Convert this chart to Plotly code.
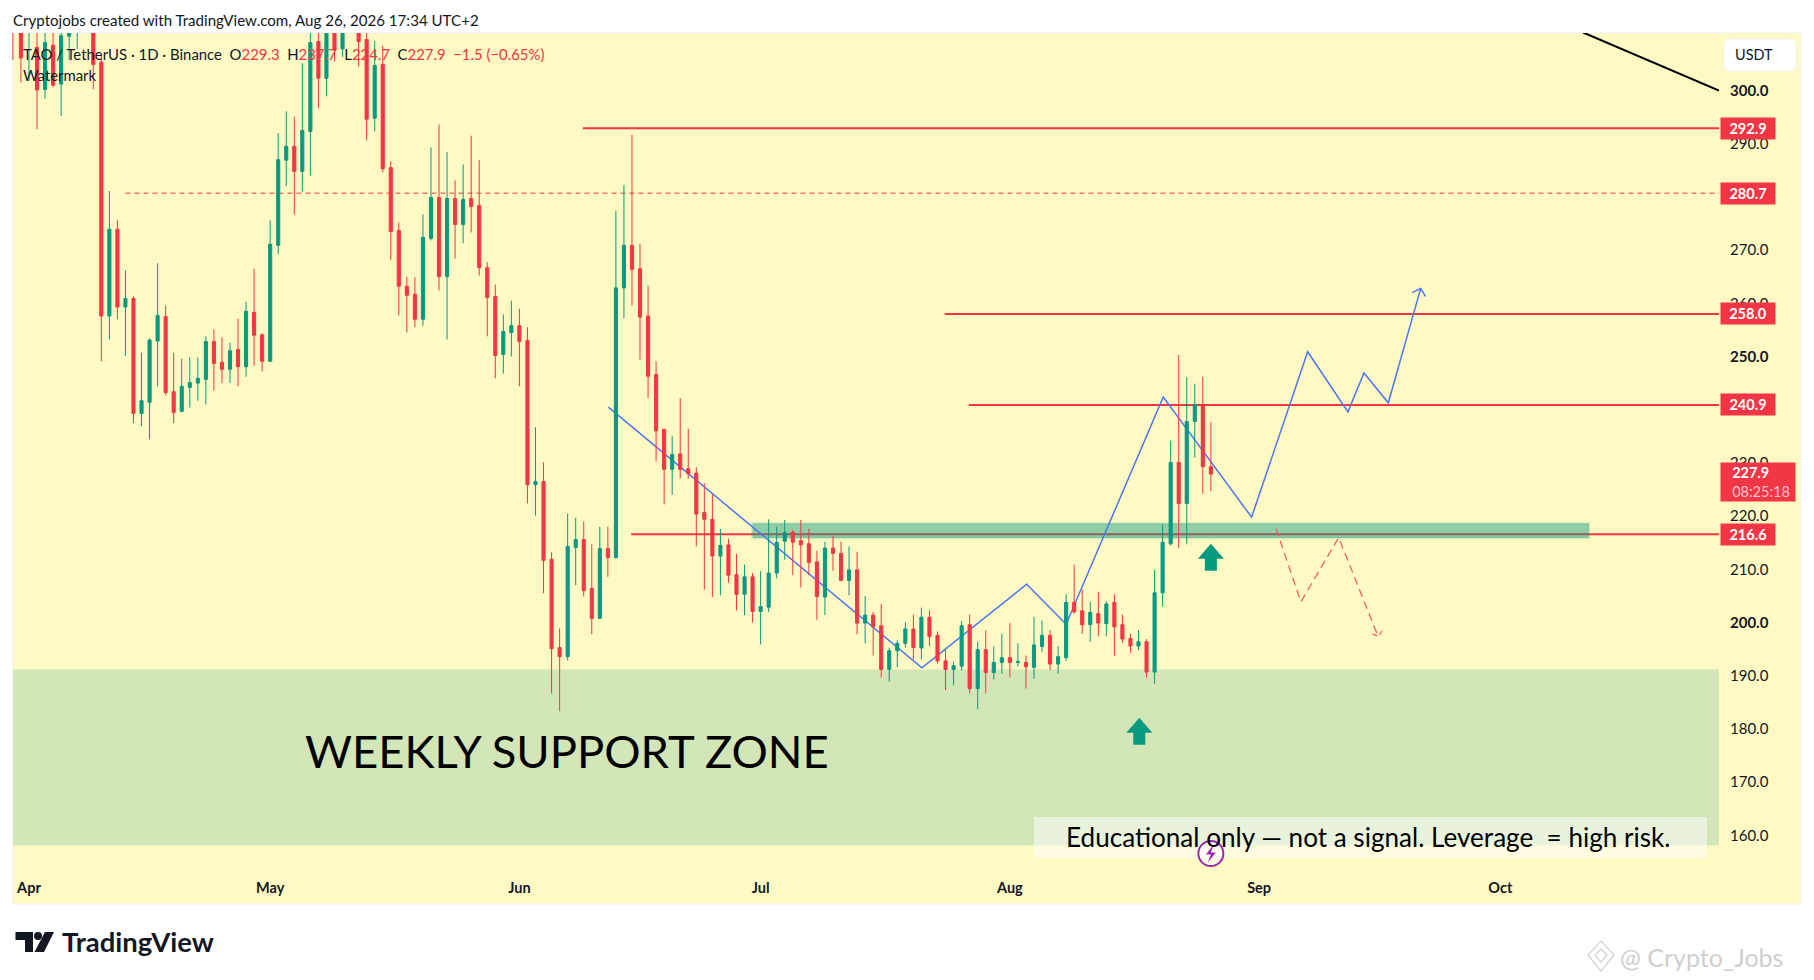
import pandas as pd
import plotly.graph_objects as go

W, H = 1814, 980
L, R, T, B = 12, 1719, 33, 870

opens = [318, 316, 312, 308.1, 300.2, 308.5, 301.2, 310.2, 312, 314, 316, 305.3,
         257.6, 273.9, 259.3, 260.9, 239.3, 241.4, 252.9, 257.5, 243.4, 239.7, 244.2, 245.0,
         245.7, 252.8, 248.9, 247.6, 251.3, 248.1, 258.3, 254.1, 249.1, 270.9, 286.9, 289.5,
         284.8, 292.3, 309.2, 302.3, 313, 307.8, 312, 313, 309.6, 294.8, 304.9, 285.5,
         273.7, 263.2, 261.7, 257.0, 272.2, 279.9, 265.0, 279.7, 274.8, 279.7, 278.4, 266.7,
         261.3, 250.4, 254.5, 255.8, 253.0, 225.9, 226.5, 211.9, 195.3, 193.6, 214.1, 215.6,
         206.4, 200.8, 213.9, 212.2, 262.9, 270.9, 266.5, 257.6, 246.6, 236.3, 228.8, 231.7,
         228.9, 228.1, 220.7, 219.4, 212.5, 214.6, 209.0, 205.3, 208.6, 202.1, 202.9, 209.3,
         215.3, 217.0, 215.4, 214.8, 211.4, 204.8, 214.0, 213.0, 207.9, 209.9, 199.9, 201.4,
         199.4, 191.2, 194.7, 196.1, 198.8, 195.2, 201.0, 197.6, 192.8, 191.2, 191.8, 199.6,
         187.6, 194.9, 190.6, 192.5, 193.4, 192.5, 192.5, 191.6, 195.5, 197.6, 192.2, 193.4,
         203.8, 202.2, 199.6, 201.7, 199.8, 203.8, 199.6, 197.0, 195.6, 196.4, 190.7, 205.6,
         214.8, 230.1, 222.4, 237.8, 241.0, 229.3]
highs = [320, 318, 317, 313, 313, 313, 313, 313, 316, 318, 318, 306.5,
         281.1, 275.6, 266.2, 261.3, 250.7, 253.4, 267.5, 259.6, 250.7, 249.6, 249.9, 249.8,
         253.8, 255.1, 253.6, 252.6, 257.1, 260.3, 266.5, 254.3, 275.6, 292.0, 296.1, 295.1,
         305.1, 312, 312, 315, 315, 316, 318, 315, 312, 309.3, 308.4, 286.7,
         275.2, 265.0, 264.9, 276.7, 289.3, 293.6, 288.4, 283.1, 286.1, 291.5, 286.9, 267.7,
         263.5, 257.9, 260.5, 259.0, 255.5, 236.7, 230.1, 213.2, 198.9, 220.5, 219.7, 219.0,
         214.7, 218.0, 218.0, 277.4, 282.2, 291.7, 271.2, 263.3, 249.1, 236.4, 235.1, 242.2,
         236.4, 229.2, 226.2, 224.2, 217.6, 215.8, 212.9, 210.9, 209.3, 209.7, 219.4, 218.0,
         219.3, 217.4, 219.3, 217.6, 213.5, 215.2, 216.3, 215.2, 214.3, 213.3, 205.0, 202.0,
         203.5, 195.3, 196.7, 200.1, 201.5, 202.8, 202.3, 198.3, 195.1, 192.7, 200.3, 201.5,
         196.4, 198.5, 195.5, 197.9, 199.9, 196.1, 193.8, 201.1, 200.4, 198.6, 195.6, 205.3,
         210.9, 206.2, 203.9, 205.8, 204.0, 205.3, 201.5, 197.9, 198.6, 196.9, 209.9, 218.4,
         234.2, 250.3, 246.1, 244.9, 246.2, 237.7]
lows = [305.7, 301.5, 301.8, 292.7, 298.4, 300.6, 295.2, 305.7, 307.8, 312, 300.2, 249.1,
        253.2, 257.0, 250.1, 237.5, 236.9, 234.4, 244.4, 242.7, 237.5, 239.5, 240.4, 241.7,
        241.0, 243.6, 245.0, 245.0, 244.4, 246.2, 248.3, 247.2, 249.0, 269.2, 282.0, 276.7,
        281.0, 284.0, 296.7, 298.9, 305.5, 306.3, 311.5, 304.5, 290.6, 292.3, 284.6, 268.1,
        257.7, 254.5, 255.5, 255.8, 271.8, 262.4, 253.2, 268.4, 271.3, 273.3, 265.2, 253.8,
        245.9, 246.8, 250.0, 244.4, 222.4, 220.1, 205.5, 186.7, 183.3, 192.9, 207.0, 204.9,
        197.8, 200.7, 208.6, 212.1, 257.2, 259.6, 249.4, 242.2, 230.3, 222.2, 224.0, 227.1,
        227.1, 214.3, 206.2, 204.8, 205.1, 207.5, 202.3, 201.4, 200.0, 195.9, 202.0, 208.3,
        211.8, 208.9, 206.6, 208.9, 200.5, 201.4, 209.7, 207.9, 205.1, 197.8, 196.1, 193.8,
        189.7, 188.9, 191.6, 195.3, 193.1, 193.1, 195.6, 192.3, 187.3, 188.2, 191.0, 186.7,
        183.7, 186.7, 189.3, 190.4, 189.7, 191.7, 187.6, 189.4, 194.5, 191.0, 190.4, 192.8,
        201.7, 197.9, 196.4, 197.4, 197.4, 193.8, 196.2, 194.3, 194.8, 189.7, 188.5, 203.0,
        214.5, 214.0, 214.7, 231.0, 224.2, 224.7]
closes = [314, 306.1, 316, 300.1, 309.0, 301.0, 310.3, 311.5, 314, 316, 304.9, 257.6,
          273.9, 259.3, 260.9, 239.3, 241.7, 253.1, 257.7, 243.2, 239.5, 244.4, 245.1, 245.9,
          252.8, 248.7, 247.6, 251.1, 248.1, 258.5, 254.0, 249.1, 271.1, 287.0, 289.5, 284.8,
          292.5, 309.0, 302.3, 313, 307.6, 312, 315, 309.2, 294.6, 304.7, 285.3, 273.5,
          263.2, 261.5, 257.0, 272.4, 279.9, 265.0, 279.7, 274.8, 279.5, 278.2, 266.7, 261.1,
          250.2, 254.7, 255.8, 252.8, 225.9, 226.5, 211.7, 195.1, 193.6, 214.3, 215.6, 206.0,
          200.8, 213.9, 212.2, 262.9, 270.9, 266.4, 257.4, 246.3, 236.0, 228.8, 231.6, 228.8,
          228.0, 220.4, 219.4, 212.5, 214.5, 208.9, 205.3, 208.6, 202.1, 203.0, 209.3, 215.1,
          216.9, 215.1, 214.6, 211.3, 204.9, 214.0, 213.0, 207.9, 209.9, 199.9, 201.4, 199.2,
          191.2, 194.7, 196.1, 198.8, 195.3, 201.0, 197.4, 192.8, 191.2, 191.9, 199.4, 187.6,
          194.9, 190.6, 192.5, 193.4, 192.5, 192.7, 191.7, 195.8, 197.6, 192.2, 193.6, 203.8,
          202.0, 199.6, 201.9, 199.9, 203.5, 199.2, 196.9, 195.6, 196.4, 190.7, 205.6, 215.1,
          230.1, 222.4, 237.8, 241.0, 229.3, 227.9]

dates = pd.date_range("2026-03-30", periods=len(opens))

month_ticks = ["2026-04-01", "2026-05-01", "2026-06-01", "2026-07-01", "2026-08-01", "2026-09-01", "2026-10-01"]
month_labels = ["Apr", "May", "Jun", "Jul", "Aug", "Sep", "Oct"]
price_ticks = [160, 170, 180, 190, 200, 210, 220, 230, 250, 260, 270, 280, 290, 300]
price_labels = ["160.0", "170.0", "180.0", "190.0", "<b>200.0</b>", "210.0", "220.0", "230.0",
                "<b>250.0</b>", "260.0", "270.0", "280.0", "290.0", "<b>300.0</b>"]

# horizontal levels, x start in days after Apr 1
level_prices = [292.9, 258.0, 240.9, 216.6]
level_starts = [68.9, 113.9, 116.9, 74.9]
dashed_level = 280.7
dashed_start = 12.0

# drawings, days after Apr 1 and prices
blue_days = [72.06, 111.06, 124.09, 129.0, 141.08, 152.07, 159.04, 164.05, 166.04, 169.07, 173.1]
blue_prices = [240.5, 191.5, 207.2, 199.7, 242.4, 219.8, 250.9, 239.6, 246.9, 241.3, 262.8]
blue_head_days = [172.05, 173.1, 173.7]
blue_head_prices = [262.0, 262.8, 261.3]
red_days = [155.1, 158.2, 162.9, 167.8]
red_prices = [217.7, 203.9, 216.0, 197.4]
red_head_days = [167.1, 167.8, 168.5]
red_head_prices = [197.9, 197.4, 198.8]
black_days = [193.3, 210.2]
black_prices = [310.9, 300.0]

RED = "#F23645"
GREEN = "#089981"
BLUE = "#4A78F5"
YELLOW = "#FFF9C4"
FONT = "Lato"
X_RANGE = [-2.11, 210.2]
Y_RANGE = [153.5, 310.8]


def day(d):
    return pd.Timestamp("2026-04-01") + pd.Timedelta(days=d)


def dstr(d):
    return day(d).strftime("%Y-%m-%d_%H:%M:%S")


def px(x):
    return (x - L) / (R - L)


def py(y):
    return (B - y) / (B - T)


def poly(days, prices, color, width, dash="solid", layer="below"):
    path = " ".join(("M" if i == 0 else "L") + " %s,%s" % (dstr(d), p) for i, (d, p) in enumerate(zip(days, prices)))
    return dict(type="path", path=path, xref="x", yref="y", layer=layer,
                line=dict(color=color, width=width, dash=dash))


def paper_path(points, fill, line_color=None, width=0, layer="above"):
    path = "M " + " L ".join("%.5f,%.5f" % (px(x), py(y)) for x, y in points) + " Z"
    return dict(type="path", path=path, xref="paper", yref="paper", layer=layer, fillcolor=fill,
                line=dict(color=line_color or fill, width=width))


shapes = [
    dict(type="rect", xref="paper", yref="paper", x0=px(13), x1=px(1801), y0=py(904), y1=py(33),
         fillcolor=YELLOW, line=dict(color="#F1F1EA", width=1), layer="below"),
    dict(type="rect", xref="paper", yref="y", x0=px(13), x1=1, y0=158.1, y1=191.2,
         fillcolor="#D2E6B7", line_width=0, layer="below"),
    poly([dashed_start, X_RANGE[1]], [dashed_level, dashed_level], RED, 1, "5px,4px"),
]
for price, start in zip(level_prices, level_starts):
    shapes.append(poly([start, X_RANGE[1]], [price, price], RED, 2))
shapes += [
    dict(type="rect", xref="x", yref="y", x0=day(90), x1=day(194), y0=215.9, y1=218.6,
         fillcolor="rgba(8,153,129,0.45)", line=dict(color="rgba(8,153,129,0.15)", width=3), layer="below"),
    poly(blue_days, blue_prices, BLUE, 1.5),
    poly(blue_head_days, blue_head_prices, BLUE, 1.5),
    poly(red_days, red_prices, "#F7525F", 1.2, "8px,5px"),
    poly(red_head_days, red_head_prices, "#F7525F", 1.2, "5px,3px"),
    poly(black_days, black_prices, "#000000", 2),
    # disclaimer box
    dict(type="rect", xref="paper", yref="paper", x0=px(1034), x1=px(1707), y0=py(858), y1=py(817),
         fillcolor="rgba(255,255,255,0.5)", line_width=0, layer="above"),
]

# block arrows
arrow_path = "M 0,0 L 13,-15 L 6,-15 L 6,-27 L -6,-27 L -6,-15 L -13,-15 Z"
for d, p in [(147, 214.8), (138.1, 182.1)]:
    shapes.append(dict(type="path", path=arrow_path, xsizemode="pixel", ysizemode="pixel", xanchor=day(d), yanchor=p,
                       xref="x", yref="y", fillcolor=GREEN, line_width=0, layer="above"))

# purple event icon
shapes.append(dict(type="circle", xsizemode="pixel", ysizemode="pixel", xanchor=day(147), yanchor=156.6,
                   x0=-12.5, x1=12.5, y0=-12.5, y1=12.5, xref="x", yref="y", fillcolor="rgba(255,255,255,0.55)",
                   line=dict(color="#9C27B0", width=2), layer="above"))
shapes.append(dict(type="path", xsizemode="pixel", ysizemode="pixel", xanchor=day(147), yanchor=156.6,
                   path="M 3,9 L -5,-1 L 0,-1 L -3,-9 L 5,1 L 0,1 Z", xref="x", yref="y",
                   fillcolor="#9C27B0", line_width=0, layer="above"))

# USDT button
shapes.append(dict(type="path", xref="paper", yref="paper", layer="below", fillcolor="#FFFFFF",
                   line=dict(color="#F0F3FA", width=1),
                   path="M %f,%f L %f,%f Q %f,%f %f,%f L %f,%f Q %f,%f %f,%f L %f,%f Q %f,%f %f,%f L %f,%f Q %f,%f %f,%f Z" % (
                       px(1730), py(39), px(1790), py(39), px(1796), py(39), px(1796), py(45),
                       px(1796), py(65), px(1796), py(71), px(1790), py(71),
                       px(1730), py(71), px(1724), py(71), px(1724), py(65),
                       px(1724), py(45), px(1724), py(39), px(1730), py(39))))

# TradingView logo
shapes.append(paper_path([(15.5, 932), (33, 932), (33, 952), (25, 952), (25, 940), (15.5, 940)], "#131722"))
shapes.append(dict(type="circle", xref="paper", yref="paper", x0=px(34), x1=px(42), y0=py(940), y1=py(932),
                   fillcolor="#131722", line_width=0, layer="above"))
shapes.append(paper_path([(45, 932), (54, 932), (44, 952), (34.5, 952)], "#131722"))

# watermark diamond
shapes.append(paper_path([(1601, 941), (1614, 955), (1601, 971), (1588, 955)], "rgba(0,0,0,0)", "#D8D8D8", 1.5))
shapes.append(paper_path([(1601, 949), (1607, 955), (1601, 962), (1595, 955)], "rgba(0,0,0,0)", "#D8D8D8", 1.5))


def text(x, y, s, size, color="#131722", anchor="left", **kw):
    return dict(x=px(x), y=py(y), xref="paper", yref="paper", text=s, showarrow=False, xanchor=anchor,
                yanchor="middle", font=dict(family=FONT, size=size, color=color), **kw)


def price_tag(price, label):
    return dict(x=1, xref="paper", y=price, yref="y", text="<b>%s</b>" % label, showarrow=False, xanchor="left",
                yanchor="middle", xshift=1, bgcolor=RED, width=54, height=21, borderpad=0, align="center",
                font=dict(family=FONT, size=14.5, color="#FFFFFF"))


red = '<span style="color:%s">' % RED
legend_line = ("TAO / TetherUS · 1D · Binance  O" + red + "229.3</span>  H" + red + "237.7</span>  L" + red
               + "224.7</span>  C" + red + "227.9  −1.5 (−0.65%)</span>")

annotations = [
    text(11, 20, "Cryptojobs created with TradingView.com, Aug 26, 2026 17:34 UTC+2", 15.1),
    text(21, 54, legend_line, 14.9),
    text(21, 75, "Watermark", 14.9),
    text(1733, 55, "USDT", 14.5),
    text(303, 750, "WEEKLY SUPPORT ZONE", 45.4, "#000000"),
    text(1064, 837, "Educational only — not a signal. Leverage\u00a0 = high risk.", 26.1, "#000000"),
    text(60, 942, "<b>TradingView</b>", 27.5),
    text(1618, 957, "@ Crypto_Jobs", 25, "#CFCFCF"),
]
for p, lab in [(292.9, "292.9"), (280.7, "280.7"), (258.0, "258.0"), (240.9, "240.9"), (216.6, "216.6")]:
    annotations.append(price_tag(p, lab))
annotations.append(dict(x=1, xref="paper", y=227.9, yref="y", yshift=-8, xshift=1, showarrow=False, xanchor="left",
                        yanchor="middle", bgcolor=RED, width=74, height=38, borderpad=0, align="left",
                        text='\u00a0\u00a0\u00a0<b>227.9</b><br>\u00a0\u00a0\u00a0<span style="color:#FBC5CA">08:25:18</span>',
                        font=dict(family=FONT, size=14.5, color="#FFFFFF")))

fig = go.Figure(go.Candlestick(
    x=dates, open=opens, high=highs, low=lows, close=closes,
    increasing=dict(line=dict(color=GREEN, width=1), fillcolor=GREEN),
    decreasing=dict(line=dict(color=RED, width=1), fillcolor=RED),
    whiskerwidth=0, hoverinfo="skip", showlegend=False))

fig.update_layout(
    width=W, height=H, margin=dict(l=L, r=W - R, t=T, b=H - B),
    paper_bgcolor="#FFFFFF", plot_bgcolor="rgba(0,0,0,0)", boxgap=0.45,
    shapes=shapes, annotations=annotations, showlegend=False,
    font=dict(family=FONT, color="#131722"),
    xaxis=dict(range=[day(X_RANGE[0]), day(X_RANGE[1])], type="date", rangeslider_visible=False, showgrid=False,
               zeroline=False, showline=False, tickmode="array", tickvals=month_ticks,
               ticktext=["<b>%s</b>" % m for m in month_labels], tickfont=dict(size=14.5, color="#131722"),
               ticks="outside", ticklen=5, tickcolor="rgba(0,0,0,0)"),
    yaxis=dict(range=Y_RANGE, side="right", showgrid=False, zeroline=False, showline=False, tickmode="array",
               tickvals=price_ticks, ticktext=price_labels, tickfont=dict(size=15, color="#131722"),
               ticks="outside", ticklen=7, tickcolor="rgba(0,0,0,0)"),
)

fig.write_html("out.html", config=dict(displayModeBar=False), post_script="document.body.style.margin='0';")
